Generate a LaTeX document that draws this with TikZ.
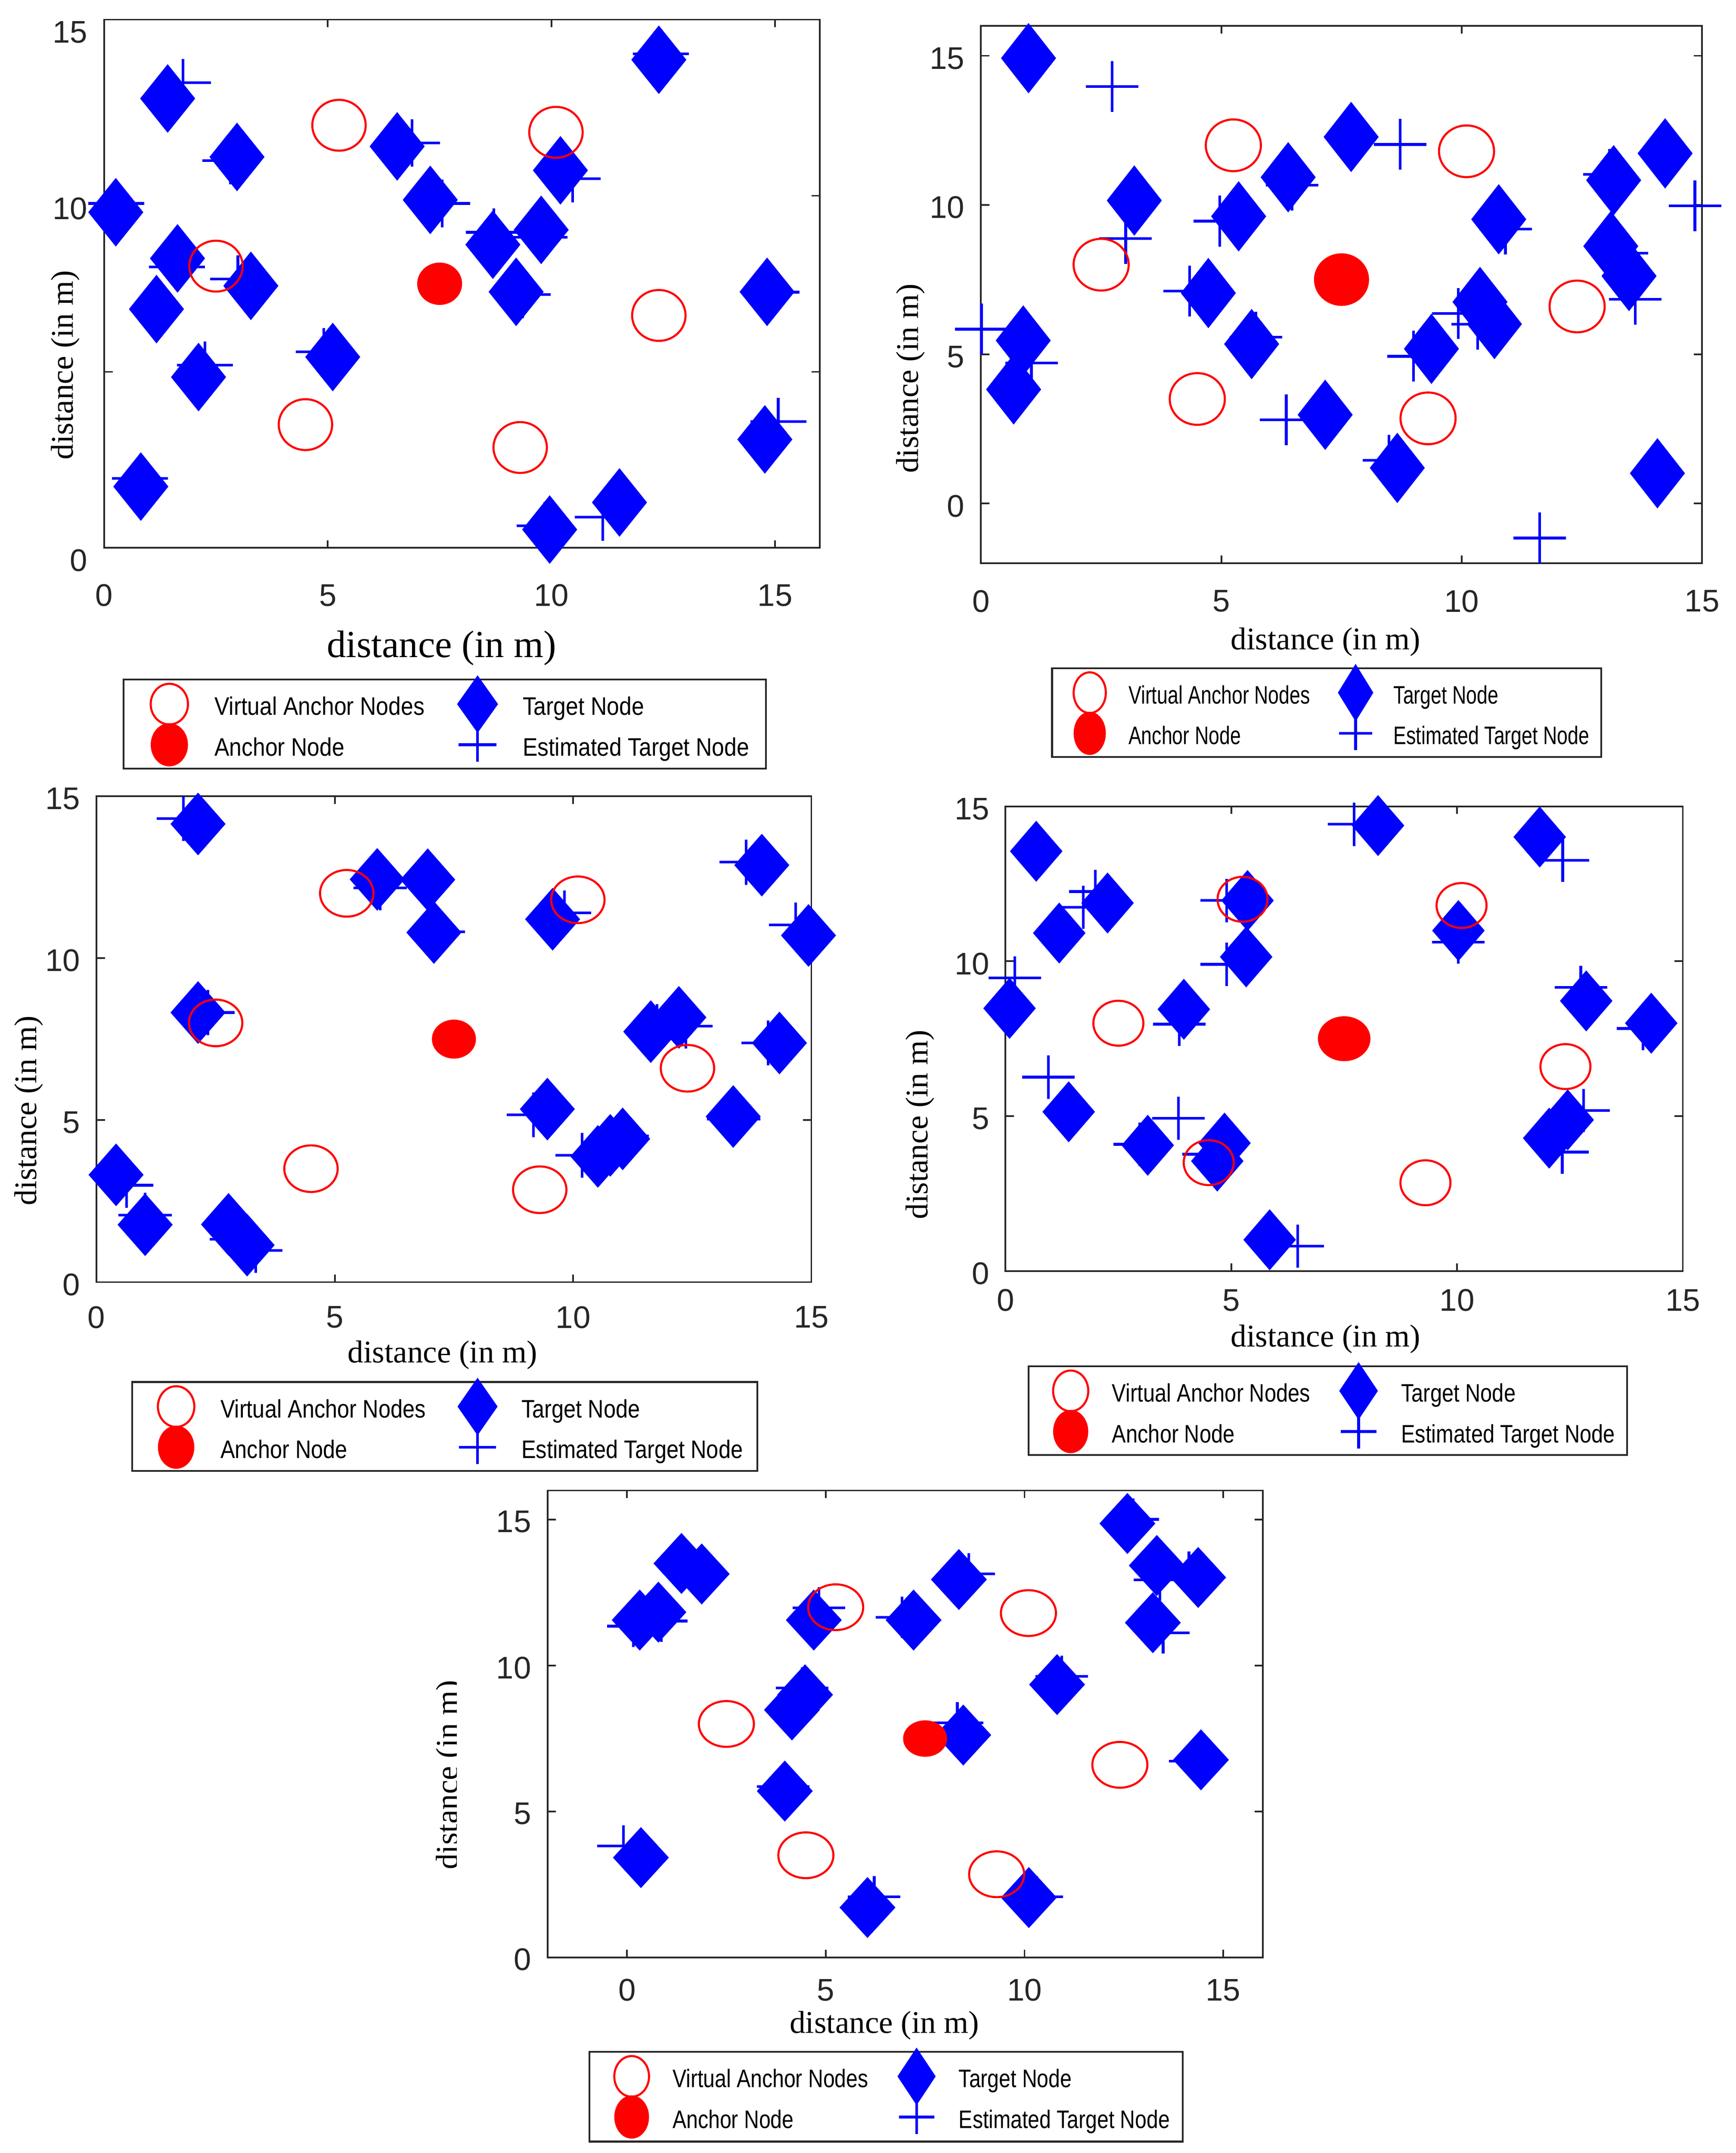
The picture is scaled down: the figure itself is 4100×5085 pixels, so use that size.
\documentclass[tikz,border=0pt]{standalone}
\usepackage{fontspec}
\setmainfont{Liberation Serif}
\setsansfont{Liberation Sans}
\usepackage{graphicx}
\definecolor{axcol}{HTML}{262626}
\tikzset{
  virt/.style={draw=red, line width=1.4pt},
  anch/.style={fill=red},
  tgt/.style={fill=blue},
  est/.style={draw=blue, line width=1.8pt},
  axbox/.style={draw=axcol, line width=1.1pt},
  legbox/.style={draw=axcol, line width=1.2pt},
  ticklab/.style={text=axcol, font=\sffamily\fontsize{21}{25}\selectfont, inner sep=0pt},
  axlab/.style={font=\rmfamily\fontsize{21.2}{25}\selectfont, inner sep=0pt},
  legtext/.style={font=\sffamily\fontsize{17}{20}\selectfont, inner sep=0pt},
}
\newcommand\dmd[4]{\fill[tgt] (#1,#2) ++(0,#4cm) -- ++(#3cm,-#4cm) -- ++(-#3cm,-#4cm) -- ++(-#3cm,#4cm) -- cycle;}
\newcommand\pls[4]{\draw[est] (#1,#2) ++(-#3cm,0) -- ++(2*#3cm,0) (#1,#2) ++(0,-#4cm) -- ++(0,2*#4cm);}
\newcommand\vcirc[4]{\draw[virt] (#1,#2) ellipse [x radius=#3cm, y radius=#4cm];}
\def\VA{5.25/12,10.1/11.8,2.5/8,12.4/6.6,4.5/3.5,9.3/2.85}
% legend: #1 L, #2 T, #3 R, #4 B, #5 sym1 x, #6 text1 x, #7 sym2 x, #8 text2 x, #9 xscale
\newcommand\leg[9]{%
  \draw[legbox] (#1,#2) rectangle (#3,#4);
  \begin{scope}[shift={(#5,#2+58)}, xscale=#9]
    \draw[virt] (0,0) ellipse [x radius=0.50cm, y radius=0.48cm];
  \end{scope}
  \begin{scope}[shift={(#5,#2+154)}, xscale=#9]
    \fill[anch] (0,0) ellipse [x radius=0.50cm, y radius=0.51cm];
  \end{scope}
  \begin{scope}[shift={(#7,#2+58)}, xscale=#9]
    \fill[tgt] (0,0.68cm) -- (0.55cm,0) -- (0,-0.68cm) -- (-0.55cm,0) -- cycle;
  \end{scope}
  \begin{scope}[shift={(#7,#2+154)}, xscale=#9]
    \draw[est] (-0.51cm,0) -- (0.51cm,0) (0,-0.40cm) -- (0,0.40cm);
  \end{scope}
  \node[legtext, anchor=base west] (lg#1a) at (#6,#2+84) {\scalebox{#9}[1]{Virtual Anchor Nodes}};
  \node[legtext, anchor=base west] (lg#1b) at (#6,#2+180) {\scalebox{#9}[1]{Anchor Node}};
  \node[legtext, anchor=base west] (lg#1c) at (#8,#2+84) {\scalebox{#9}[1]{Target Node}};
  \node[legtext, anchor=base west] (lg#1d) at (#8,#2+180) {\scalebox{#9}[1]{Estimated Target Node}};
}
\begin{document}
\begin{tikzpicture}[x=0.01cm, y=-0.01cm]
\useasboundingbox (0,0) rectangle (4100,5085);
\fill[white] (0,0) rectangle (4100,5085);

% ================= Panel 1 =================
\begin{scope}[shift={(246,1294)}, x=1.056cm, y=0.8313cm]
  \draw[axbox] (0,0) rectangle (16,15);
  \foreach \t in {0,5,10,15}{
    \draw[axbox] (\t,0) -- ++(0,0.18cm); \draw[axbox] (\t,15) -- ++(0,-0.18cm);
    \draw[axbox] (0,\t) -- ++(0.2cm,0); \draw[axbox] (16,\t) -- ++(-0.2cm,0);
    \node[ticklab, yshift=-1.12cm] (pax\t) at (\t,0) {\t};}
  \foreach \t in {0,10,15} \node[ticklab, anchor=east, xshift=-0.39cm, yshift=-0.30cm] (pay\t) at (0,\t) {\t};
  \foreach \a/\b in {1.42/12.76,2.97/11.10,0.26/9.53,1.64/8.22,1.17/6.78,3.28/7.44,2.11/4.85,5.11/5.42,0.82/1.74,6.55/11.40,7.29/9.88,8.69/8.61,9.21/7.27,9.77/9.03,10.20/10.72,12.40/13.86,14.82/7.27,14.77/3.08,11.52/1.29,9.96/0.52}{\dmd{\a}{\b}{0.65}{0.81}}
  \foreach \a/\b in {1.76/13.21,2.82/11.0,0.27/9.78,1.63/7.98,2.99/7.63,2.25/5.19,4.91/5.57,0.80/1.97,6.88/11.50,7.56/9.78,8.71/8.96,9.36/7.19,9.73/8.82,10.47/10.48,12.45/14.03,14.92/7.26,15.07/3.59,11.15/0.87,9.85/0.63}{\pls{\a}{\b}{0.66}{0.56}}
  \foreach \a/\b in \VA {\vcirc{\a}{\b}{0.63}{0.60}}
  \fill[anch] (7.5,7.5) ellipse [x radius=0.53cm, y radius=0.50cm];
\end{scope}
\node[axlab, font=\rmfamily\fontsize{25.7}{30}\selectfont] (p1xl) at (1043,1531) {distance (in m)};
\node[axlab, rotate=90] (p1yl) at (154,862) {distance (in m)};
\leg{292}{1605}{1809}{1815}{400}{506}{1128}{1234}{0.88}

% ================= Panel 2 =================
\begin{scope}[shift={(2317,1189)}, x=1.135cm, y=0.7044cm]
  \draw[axbox] (0,-2) rectangle (15,16);
  \foreach \t in {0,5,10,15}{
    \draw[axbox] (\t,-2) -- ++(0,0.18cm); \draw[axbox] (\t,16) -- ++(0,-0.18cm);
    \draw[axbox] (0,\t) -- ++(0.2cm,0); \draw[axbox] (15,\t) -- ++(-0.2cm,0);
    \node[ticklab, yshift=-0.90cm] (pbx\t) at (\t,-2) {\t};
    \node[ticklab, anchor=east, xshift=-0.38cm, yshift=-0.06cm] (pby\t) at (0,\t) {\t};}
  \foreach \a/\b in {0.99/14.92,3.19/10.15,5.36/9.62,6.39/10.93,7.70/12.28,4.73/7.05,5.63/5.34,0.88/5.46,0.68/3.82,7.16/2.97,8.66/1.19,9.37/5.18,10.38/6.75,10.68/6.01,10.77/9.52,13.16/10.83,14.23/11.73,13.10/8.62,13.48/7.62,14.07/1.01}{\dmd{\a}{\b}{0.65}{0.83}}
  \foreach \a/\b in {2.73/13.97,8.72/12.03,3.01/8.88,4.97/9.46,6.47/10.67,0.01/5.84,1.05/4.71,6.35/2.80,4.34/7.12,5.72/5.57,8.49/1.44,9.0/4.93,9.93/6.37,10.33/6.0,10.91/9.19,11.62/-1.16,14.85/9.97,13.07/11.03,13.61/6.84,13.33/8.38}{\pls{\a}{\b}{0.62}{0.60}}
  \foreach \a/\b in \VA {\vcirc{\a}{\b}{0.65}{0.61}}
  \fill[anch] (7.5,7.5) ellipse [x radius=0.65cm, y radius=0.62cm];
\end{scope}
\node[axlab] (p2xl) at (3131,1516) {distance (in m)};
\node[axlab, rotate=90] (p2yl) at (2151,894) {distance (in m)};
\leg{2485}{1578}{3782}{1788}{2574}{2665}{3202}{3291}{0.76}

% ================= Panel 3 =================
\begin{scope}[shift={(228,3028)}, x=1.125cm, y=0.7647cm]
  \draw[axbox] (0,0) rectangle (15,15);
  \foreach \t in {0,5,10,15}{
    \draw[axbox] (\t,0) -- ++(0,0.18cm); \draw[axbox] (\t,15) -- ++(0,-0.18cm);
    \draw[axbox] (0,\t) -- ++(0.2cm,0); \draw[axbox] (15,\t) -- ++(-0.2cm,0);
    \node[ticklab, yshift=-0.83cm] (pcx\t) at (\t,0) {\t};
    \node[ticklab, anchor=east, xshift=-0.38cm, yshift=-0.06cm] (pcy\t) at (0,\t) {\t};}
  \foreach \a/\b in {2.13/14.14,5.89/12.43,6.95/12.42,7.08/10.79,9.57/11.20,2.13/8.32,0.41/3.31,1.02/1.77,2.77/1.78,3.16/1.14,9.46/5.34,10.52/3.88,11.04/4.42,10.78/4.22,11.63/7.73,12.22/8.17,14.33/7.38,13.36/5.11,13.96/12.87,14.94/10.70}{\dmd{\a}{\b}{0.65}{0.74}}
  \foreach \a/\b in {1.82/14.31,5.95/12.17,7.17/10.81,9.82/11.40,2.34/8.32,0.63/2.99,1.02/2.07,2.93/1.32,3.34/0.98,9.17/5.16,10.19/3.91,11.03/4.51,11.76/7.89,12.37/7.90,14.09/7.38,13.63/12.96,14.67/11.02,13.37/5.03}{\pls{\a}{\b}{0.63}{0.53}}
  \foreach \a/\b in \VA {\vcirc{\a}{\b}{0.63}{0.55}}
  \fill[anch] (7.5,7.5) ellipse [x radius=0.52cm, y radius=0.46cm];
\end{scope}
\node[axlab] (p3xl) at (1045,3200) {distance (in m)};
\node[axlab, rotate=90] (p3yl) at (68,2623) {distance (in m)};
\leg{312}{3264}{1789}{3474}{416}{520}{1128}{1231}{0.86}

% ================= Panel 4 =================
\begin{scope}[shift={(2375,3002)}, x=1.066cm, y=0.7313cm]
  \draw[axbox] (0,0) rectangle (15,15);
  \foreach \t in {0,5,10,15}{
    \draw[axbox] (\t,0) -- ++(0,0.18cm); \draw[axbox] (\t,15) -- ++(0,-0.18cm);
    \draw[axbox] (0,\t) -- ++(0.2cm,0); \draw[axbox] (15,\t) -- ++(-0.2cm,0);
    \node[ticklab, yshift=-0.69cm] (pdx\t) at (\t,0) {\t};
    \node[ticklab, anchor=east, xshift=-0.37cm, yshift=-0.06cm] (pdy\t) at (0,\t) {\t};}
  \foreach \a/\b in {0.68/13.55,1.19/10.91,2.26/11.88,0.09/8.48,1.40/5.14,3.15/4.06,3.95/8.45,5.36/11.96,5.33/10.14,4.85/4.13,4.69/3.55,5.85/1.01,8.25/14.38,11.83/14.01,10.03/10.99,12.86/8.72,14.30/8.0,12.45/4.88,12.04/4.29}{\dmd{\a}{\b}{0.62}{0.72}}
  \foreach \a/\b in {7.72/14.42,12.34/13.26,1.99/12.25,1.72/11.74,4.90/11.96,4.90/9.90,0.21/9.46,0.95/6.26,3.83/4.93,3.85/7.97,2.97/4.09,4.5/3.77,6.47/0.80,10.03/10.62,12.74/9.16,14.12/7.83,12.80/5.18,12.33/3.84}{\pls{\a}{\b}{0.62}{0.51}}
  \foreach \a/\b in \VA {\vcirc{\a}{\b}{0.59}{0.53}}
  \fill[anch] (7.5,7.5) ellipse [x radius=0.62cm, y radius=0.53cm];
\end{scope}
\node[axlab] (p4xl) at (3131,3163) {distance (in m)};
\node[axlab, rotate=90] (p4yl) at (2173,2656) {distance (in m)};
\leg{2430}{3227}{3843}{3436}{2529}{2626}{3209}{3309}{0.83}

% ================= Panel 5 =================
\begin{scope}[shift={(1481,4623)}, x=0.9383cm, y=0.6888cm]
  \draw[axbox] (-2,0) rectangle (16,16);
  \foreach \t in {0,5,10,15}{
    \draw[axbox] (\t,0) -- ++(0,0.18cm); \draw[axbox] (\t,16) -- ++(0,-0.18cm);
    \draw[axbox] (-2,\t) -- ++(0.2cm,0); \draw[axbox] (16,\t) -- ++(-0.2cm,0);
    \node[ticklab, yshift=-0.77cm] (pex\t) at (\t,0) {\t};
    \node[ticklab, anchor=east, xshift=-0.38cm, yshift=-0.05cm] (pey\t) at (-2,\t) {\t};}
  \foreach \a/\b in {0.35/3.42,0.32/11.56,0.79/11.83,1.37/13.50,1.88/13.14,4.70/11.56,4.15/8.48,4.48/9.0,3.97/5.70,6.05/1.71,7.21/11.56,8.35/12.95,8.46/7.62,10.11/2.05,10.82/9.35,12.59/14.87,13.33/13.43,14.37/13.02,13.23/11.47,14.44/6.77}{\dmd{\a}{\b}{0.66}{0.72}}
  \foreach \a/\b in {-0.09/3.82,0.16/11.35,0.86/11.53,4.83/11.98,4.41/9.23,3.93/5.85,6.22/2.08,6.92/11.65,8.60/13.14,8.31/8.04,10.31/2.08,10.94/9.63,12.73/15.01,13.41/12.94,14.14/13.20,13.49/11.12,14.30/6.73}{\pls{\a}{\b}{0.62}{0.49}}
  \foreach \a/\b in \VA {\vcirc{\a}{\b}{0.65}{0.54}}
  \fill[anch] (7.5,7.5) ellipse [x radius=0.52cm, y radius=0.43cm];
\end{scope}
\node[axlab] (p5xl) at (2089,4784) {distance (in m)};
\begin{scope}
  \clip (900,3900) rectangle (1079,4500);
  \node[axlab, rotate=90] (p5yl) at (1064,4192) {distance (in m)};
\end{scope}
\leg{1392}{4846}{2794}{5058}{1492}{1588}{2165}{2264}{0.82}
\end{tikzpicture}
\end{document}
